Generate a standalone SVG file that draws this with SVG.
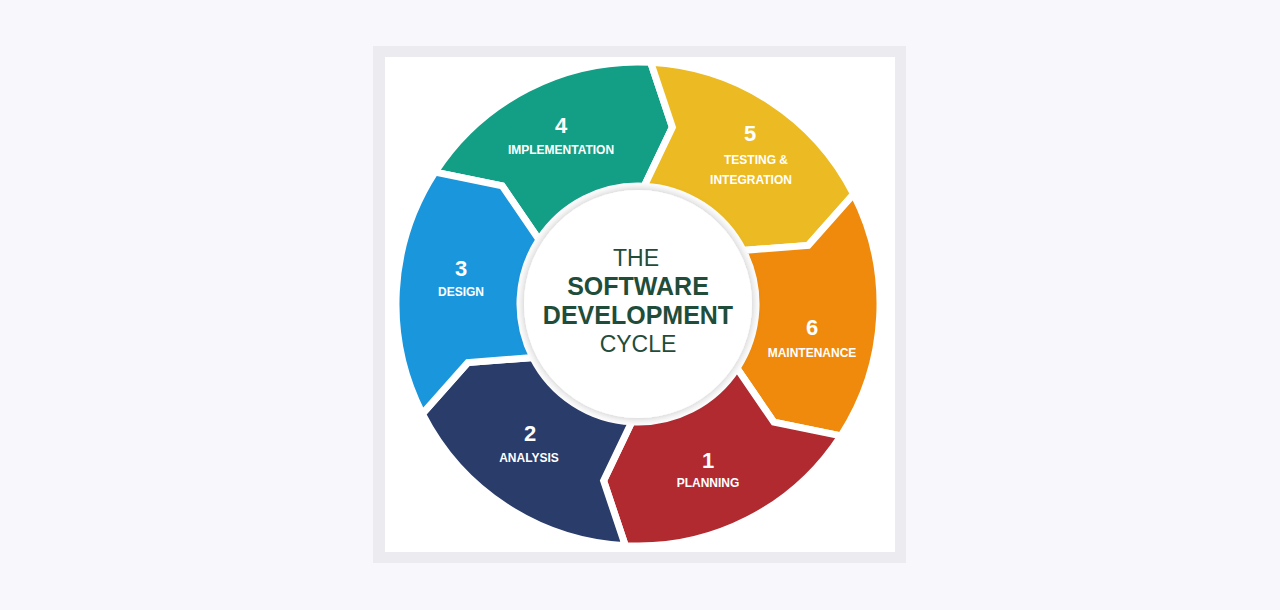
<svg xmlns="http://www.w3.org/2000/svg" width="1280" height="610" viewBox="0 0 1280 610">
<defs>
<style>
.seg{stroke:#fff;stroke-width:7;stroke-linejoin:miter}
.n{font-family:"Liberation Sans",Arial,sans-serif;font-weight:bold;font-size:22px;fill:#fff;text-anchor:middle}
.l{font-family:"Liberation Sans",Arial,sans-serif;font-weight:bold;font-size:12px;fill:#fff;text-anchor:middle}
.c{font-family:"Liberation Sans",Arial,sans-serif;font-size:23px;fill:#1f4d3a;text-anchor:middle}
.cb{font-family:"Liberation Sans",Arial,sans-serif;font-weight:bold;font-size:25px;fill:#1f4d3a;text-anchor:middle}
</style>
<path id="s" d="M0,-242 A242,242 0 0 1 209.6,-121 L166.9,-67.4 L102.2,-59 A118,118 0 0 0 0,-118 L25.1,-178.3 Z"/>
<filter id="sh" x="-20%" y="-20%" width="140%" height="140%"><feDropShadow dx="0" dy="0" stdDeviation="5" flood-color="#000" flood-opacity="0.25"/></filter>
</defs>
<rect width="1280" height="610" fill="#f8f8fc"/>
<rect x="373" y="46" width="533" height="517" fill="#ececf0"/>
<rect x="385" y="57" width="510" height="495" fill="#fff"/>
<g id="connectors"></g>
<g id="n4"><use href="#s" class="seg" fill="#139f86" transform="translate(638,304) rotate(-57)"/><text class="n" x="561" y="133">4</text><text class="l" x="561" y="154">IMPLEMENTATION</text></g>
<g id="n5"><use href="#s" class="seg" fill="#ecba22" transform="translate(638,304) rotate(3)"/><text class="n" x="750" y="141">5</text><text class="l" x="756" y="164">TESTING &amp;</text><text class="l" x="751" y="184">INTEGRATION</text></g>
<g id="n6"><use href="#s" class="seg" fill="#ef8a0c" transform="translate(638,304) rotate(63)"/><text class="n" x="812" y="335">6</text><text class="l" x="812" y="357">MAINTENANCE</text></g>
<g id="n1"><use href="#s" class="seg" fill="#b02a30" transform="translate(638,304) rotate(123)"/><text class="n" x="708" y="468">1</text><text class="l" x="708" y="487">PLANNING</text></g>
<g id="n2"><use href="#s" class="seg" fill="#2a3c6a" transform="translate(638,304) rotate(183)"/><text class="n" x="530" y="441">2</text><text class="l" x="529" y="462">ANALYSIS</text></g>
<g id="n3"><use href="#s" class="seg" fill="#1a96dd" transform="translate(638,304) rotate(243)"/><text class="n" x="461" y="276">3</text><text class="l" x="461" y="296">DESIGN</text></g>
<g id="center"><circle cx="638" cy="304" r="114" fill="#fff" filter="url(#sh)"/>
<text class="c" x="636" y="266">THE</text>
<text class="cb" x="638" y="295">SOFTWARE</text>
<text class="cb" x="638" y="324">DEVELOPMENT</text>
<text class="c" x="638" y="352">CYCLE</text></g>
</svg>
